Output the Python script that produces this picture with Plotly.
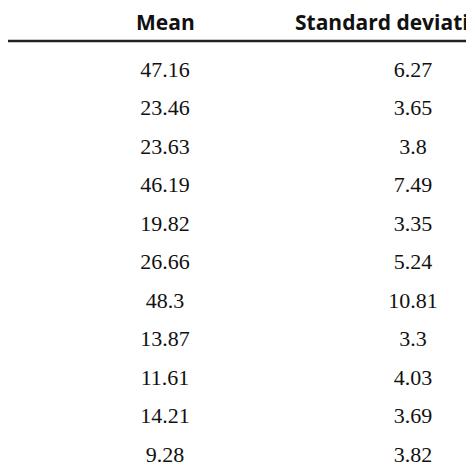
import plotly.graph_objects as go

headers = ["Mean", "Standard deviation"]
means = ["47.16", "23.46", "23.63", "46.19", "19.82", "26.66", "48.3", "13.87", "11.61", "14.21", "9.28"]
sds = ["6.27", "3.65", "3.8", "7.49", "3.35", "5.24", "10.81", "3.3", "4.03", "3.69", "3.82"]
rows = list(range(len(means)))

X_MEAN, X_SD = 157, 405
Y0, PITCH = 63, 38.5
ys = [Y0 + PITCH * r for r in rows]

fig = go.Figure()
fig.add_trace(go.Scatter(x=[X_MEAN] * len(means), y=ys, text=means, mode="text",
                         textfont=dict(family="Liberation Serif", size=22, color="#111")))
fig.add_trace(go.Scatter(x=[X_SD] * len(sds), y=ys, text=sds, mode="text",
                         textfont=dict(family="Liberation Serif", size=22, color="#111")))
fig.add_annotation(x=X_MEAN, y=14, text="<b>" + headers[0] + "</b>", showarrow=False,
                   font=dict(family="Open Sans", size=21, color="#111"))
fig.add_annotation(x=285, y=14, text="<b>" + headers[1] + "</b>", showarrow=False, xanchor="left",
                   font=dict(family="Open Sans", size=21, color="#111"))
fig.add_shape(type="line", xref="paper", x0=-0.02, x1=1.02, y0=33, y1=33,
              line=dict(color="#222", width=2.5))

fig.update_layout(width=474, height=474, margin=dict(l=0, r=0, t=0, b=0),
                  paper_bgcolor="white", plot_bgcolor="white", showlegend=False,
                  xaxis=dict(range=[0, 474], visible=False, fixedrange=True),
                  yaxis=dict(range=[474, 0], visible=False, fixedrange=True))
fig.write_html("out.html")
